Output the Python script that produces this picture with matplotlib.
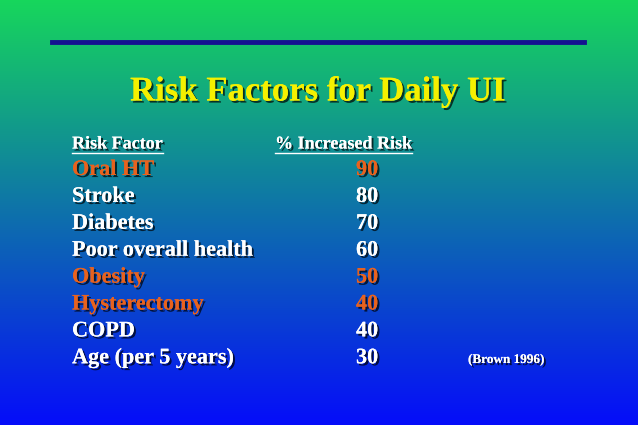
import numpy as np
import matplotlib
matplotlib.use("Agg")
from matplotlib import pyplot as plt
from matplotlib import patheffects as pe
from matplotlib.lines import Line2D

# slide content
title = "Risk Factors for Daily UI"
headers = ["Risk Factor", "% Increased Risk"]
factors = ["Oral HT", "Stroke", "Diabetes", "Poor overall health",
           "Obesity", "Hysterectomy", "COPD", "Age (per 5 years)"]
risks = [90, 80, 70, 60, 50, 40, 40, 30]
highlighted = [True, False, False, False, True, True, False, False]
source = "(Brown 1996)"

W, H = 638, 425
fig = plt.figure(figsize=(W / 100, H / 100), dpi=100)

# gradient background green -> blue
bg = fig.add_axes([0, 0, 1, 1])
top = np.array([0.09, 0.84, 0.36])
bot = np.array([0.02, 0.05, 0.98])
t = np.linspace(0, 1, 256)[:, None]
grad = top * (1 - t) + bot * t
bg.imshow(grad[:, None, :].repeat(2, axis=1), aspect="auto", extent=[0, 1, 0, 1])
bg.axis("off")

def fx(px):
    return px / W

def fy(py):
    return 1 - py / H

shadow = [pe.withSimplePatchShadow(offset=(1.5, -1.5), shadow_rgbFace="black", alpha=0.7), pe.Normal()]
font = "Liberation Serif"

# top rule
fig.add_artist(Line2D([fx(52), fx(584)], [fy(42), fy(42)], color="#141490", lw=3.5))

fig.text(fx(318), fy(92), title, ha="center", va="center", fontsize=25,
         fontweight="bold", family=font, color="#f5f000", path_effects=shadow)

# headers with underline
for x, h in zip([72, 275], headers):
    txt = fig.text(fx(x), fy(144), h, ha="left", va="center", fontsize=13,
                   fontweight="bold", family=font, color="white", path_effects=shadow)
    fig.canvas.draw()
    bb = txt.get_window_extent()
    fig.add_artist(Line2D([bb.x0 / W, bb.x1 / W], [fy(153), fy(153)], color="white", lw=1))

orange = "#e8621e"
for i, (f, r, hl) in enumerate(zip(factors, risks, highlighted)):
    y = fy(170 + i * 26.9)
    c = orange if hl else "white"
    fig.text(fx(72), y, f, ha="left", va="center", fontsize=16, fontweight="bold",
             family=font, color=c, path_effects=shadow)
    fig.text(fx(356), y, str(r), ha="left", va="center", fontsize=16, fontweight="bold",
             family=font, color=c, path_effects=shadow)

fig.text(fx(468), fy(360), source, ha="left", va="center", fontsize=9.5,
         fontweight="bold", family=font, color="white", path_effects=shadow)

fig.savefig("out.png", dpi=100)
